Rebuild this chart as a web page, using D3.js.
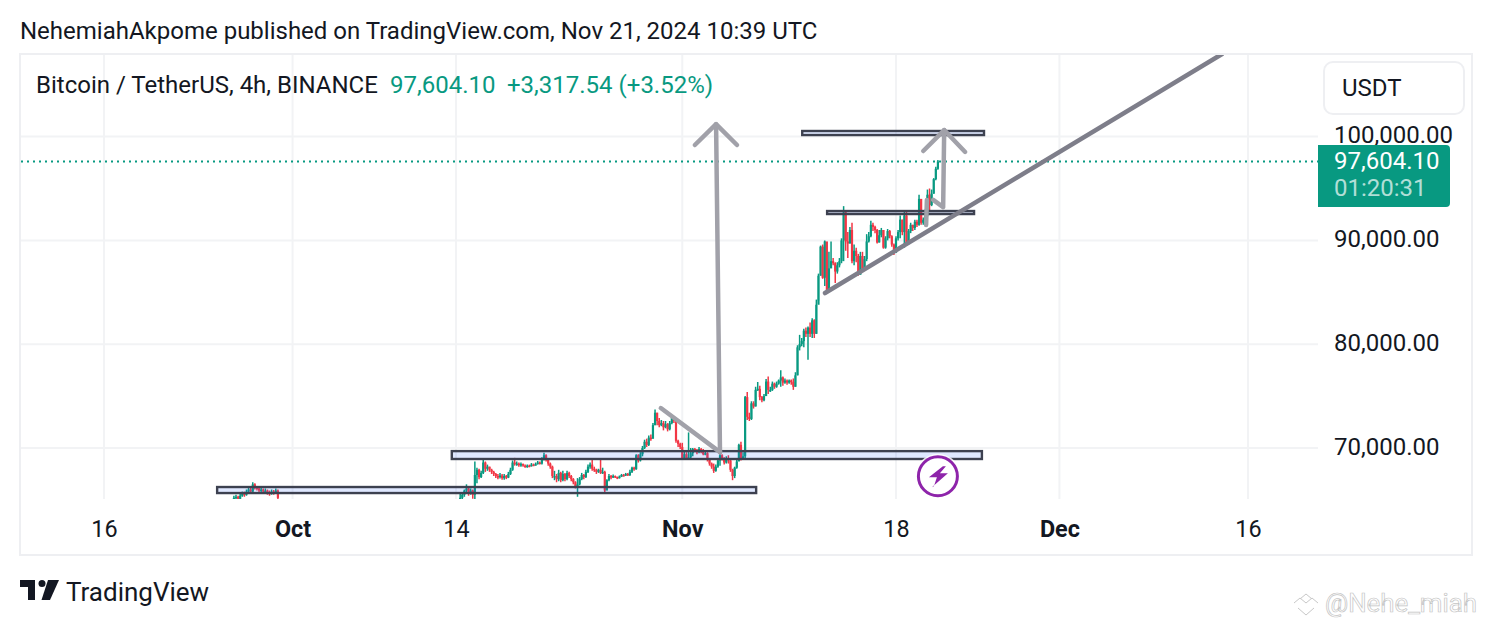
<!DOCTYPE html>
<html>
<head>
<meta charset="utf-8">
<script src="https://cdn.jsdelivr.net/npm/d3@7"></script>
<style>
  html, body { margin: 0; padding: 0; background: #fff; }
  svg { display: block; }
  text { font-family: Roboto, sans-serif; }
</style>
</head>
<body>
<div id="chart"></div>
<script>
// prices are in thousands of USDT, one value per 4h candle
const septStart = "2024-09-26T08:00:00Z";
const septCloses = [65.2,65.3,65.1,65.4,65.6,65.5,65.8,66.0,65.8,66.5,66.2,66.1,65.9,66.0,65.8,65.9,65.7,65.6,65.8,65.7,65.9,65.2];
const septHighs = [65.4,65.5,65.4,65.6,65.8,65.8,66.0,66.2,66.2,66.7,66.6,66.3,66.2,66.2,66.1,66.1,66.0,65.9,66.0,65.95,66.1,66.0];
const septLows = [64.8,65.0,64.9,65.0,65.3,65.3,65.4,65.7,65.6,65.7,66.0,65.9,65.7,65.7,65.6,65.7,65.5,65.4,65.5,65.5,65.6,65.0];

const mainStart = "2024-10-14T08:00:00Z";
const mainCloses = [
  65.2,65.5,65.9,66.1,65.6,65.9,65.5,67.4,67.9,67.2,
  67.6,68.6,68.0,68.2,67.9,67.7,67.5,67.3,67.2,67.35,
  67.1,67.3,67.15,67.5,67.9,68.6,68.5,68.5,68.35,68.45,
  68.3,68.2,68.3,68.25,68.4,68.35,68.45,68.6,68.5,68.9,
  69.3,68.9,68.5,68.2,67.3,67.3,67.0,67.6,66.9,67.5,
  67.0,67.6,67.3,67.0,66.7,66.3,66.5,67.0,67.4,67.2,
  67.7,68.2,68.4,68.0,67.9,67.7,67.9,67.6,67.7,65.9,
  66.9,67.3,67.15,67.3,67.2,67.1,67.25,67.4,67.35,67.5,
  67.4,67.7,68.1,67.95,69.3,68.8,69.4,70.0,70.6,70.3,
  71.0,70.9,72.2,73.4,72.6,72.2,72.4,72.0,72.3,71.8,
  72.4,72.9,72.6,70.7,70.4,70.1,69.0,69.4,69.0,69.1,
  69.5,69.9,69.8,69.6,69.9,69.8,69.4,69.5,68.9,68.5,
  68.2,67.8,68.2,68.8,69.3,69.0,68.6,69.0,68.8,67.9,
  67.3,68.1,68.7,70.3,69.0,69.2,74.9,73.0,72.8,74.3,
  74.0,75.6,75.7,74.9,74.6,75.0,76.4,75.6,75.6,76.2,
  75.9,76.2,76.5,76.8,76.3,76.5,76.3,76.5,76.35,75.9,
  77.0,79.7,80.0,80.3,81.3,81.0,81.6,81.0,82.3,81.0,
  83.8,86.6,89.4,86.4,89.9,85.2,87.3,88.0,87.8,87.0,
  87.6,88.0,90.0,92.7,89.9,89.7,91.0,88.0,89.0,88.5,
  86.7,88.5,87.3,88.2,89.9,90.4,91.5,91.3,91.0,89.8,
  90.5,91.0,89.3,90.2,90.9,90.4,89.6,88.8,90.2,90.8,
  92.0,90.8,92.4,89.7,90.9,91.5,91.2,91.8,91.5,94.0,
  91.7,92.0,92.4,94.4,93.4,94.5,95.9,96.9,97.6
];
const mainHighs = [
  65.6,65.7,66.0,66.5,66.3,66.1,66.0,68.7,68.1,68.0,
  67.8,68.9,68.7,68.4,68.2,68.0,67.8,67.6,67.5,67.6,
  67.5,67.5,67.4,67.7,68.1,68.8,69.05,68.7,68.6,68.6,
  68.5,68.4,68.4,68.4,68.55,68.5,68.6,68.75,68.7,69.1,
  69.55,69.4,69.0,68.6,68.3,67.8,67.5,67.9,67.7,67.8,
  67.6,67.8,67.7,67.4,67.1,66.8,67.1,67.2,67.6,67.5,
  67.9,68.4,68.6,68.85,68.2,68.0,68.0,68.85,68.1,67.8,
  67.0,67.5,67.4,67.45,67.35,67.25,67.35,67.5,67.5,67.6,
  67.6,67.9,68.2,68.2,69.4,69.4,69.6,70.2,70.8,70.9,
  71.2,71.3,72.4,73.7,73.4,72.9,72.7,72.6,72.6,72.4,
  72.6,73.0,73.0,72.5,70.8,70.5,70.5,69.7,69.6,71.5,
  70.0,70.0,70.0,69.9,70.1,70.0,69.9,69.7,69.6,69.0,
  68.6,68.5,68.4,69.0,69.6,69.4,69.1,69.2,69.3,68.9,
  68.0,68.2,69.0,70.4,70.6,69.6,75.0,75.4,73.4,74.5,
  74.5,75.9,76.36,76.0,75.0,75.2,76.65,76.9,75.9,76.4,
  76.3,76.4,76.6,77.5,76.9,76.7,76.6,76.6,76.6,76.7,
  77.3,79.9,80.9,80.6,81.5,81.6,81.7,82.1,82.5,82.4,
  84.3,86.8,89.5,89.6,90.0,88.1,88.9,89.9,88.3,87.9,
  87.9,88.3,90.2,93.3,92.9,90.8,91.3,91.7,89.6,89.3,
  88.7,88.9,88.9,88.5,90.6,90.8,91.9,91.7,91.4,91.1,
  91.0,91.2,91.0,90.4,91.1,91.0,90.5,89.7,90.4,91.0,
  92.4,92.0,92.8,92.9,91.1,91.7,91.5,92.0,92.0,94.4,
  93.7,92.2,93.0,94.9,95.0,94.9,96.0,97.1,97.75
];
const mainLows = [
  64.8,65.0,65.3,65.7,65.4,65.5,65.1,65.0,66.6,67.0,
  67.1,67.5,67.7,67.8,67.7,67.5,67.3,67.1,67.0,67.05,
  66.95,66.95,67.0,67.1,67.4,67.8,68.3,68.3,68.2,68.2,
  68.2,68.1,68.1,68.15,68.2,68.25,68.3,68.4,68.4,68.4,
  68.8,68.7,68.3,68.0,67.1,66.9,66.7,66.8,66.7,66.8,
  66.8,66.9,67.1,66.8,66.5,66.1,65.3,66.4,66.9,67.0,
  67.1,67.6,68.0,67.8,67.7,67.5,67.6,67.5,67.5,65.7,
  66.2,66.8,67.0,67.1,67.1,67.0,67.05,67.2,67.25,67.3,
  67.3,67.3,67.6,67.8,67.9,68.6,68.7,69.2,69.9,70.1,
  70.2,70.7,70.9,72.2,72.2,72.0,72.1,71.7,71.9,71.6,
  71.7,72.3,72.4,70.5,70.1,69.9,68.9,68.9,68.9,68.9,
  69.0,69.2,69.6,69.4,69.5,69.5,69.3,69.3,68.7,68.3,
  68.0,67.6,67.7,68.1,68.3,68.8,68.4,68.5,68.5,67.7,
  66.9,67.1,68.0,68.9,68.8,68.9,69.0,72.7,72.6,72.7,
  73.8,74.0,75.5,74.6,74.4,74.5,75.0,75.2,75.4,75.5,
  75.7,75.8,76.1,75.9,76.0,76.2,76.1,76.2,76.1,75.6,
  75.9,77.0,79.4,79.8,79.7,80.7,78.5,80.7,80.6,80.6,
  81.0,84.2,86.6,86.3,85.6,85.0,85.2,87.5,87.6,85.9,
  86.8,87.4,87.8,88.0,89.0,88.3,89.7,87.8,87.6,87.9,
  86.6,86.7,87.1,87.2,88.0,89.8,90.3,90.9,90.7,89.7,
  89.8,90.3,89.2,89.2,90.0,90.2,89.4,88.6,88.8,90.0,
  90.2,90.5,89.3,89.5,89.6,90.7,90.9,91.0,91.3,91.4,
  91.5,91.5,91.6,92.3,92.9,93.3,94.5,95.8,96.8
];

// axis ticks
const priceTicks = [70, 80, 90, 100];
const timeTicks = ["2024-09-16", "2024-10-01", "2024-10-14", "2024-11-01", "2024-11-18", "2024-12-01", "2024-12-16"];
const timeLabels = ["16", "Oct", "14", "Nov", "18", "Dec", "16"];

// drawn zones: start, end, top price, bottom price
const zoneStarts = ["2024-09-25T00:00Z", "2024-10-13T16:00Z", "2024-11-10T13:00Z", "2024-11-12T12:30Z"];
const zoneEnds = ["2024-11-06T21:00Z", "2024-11-24T20:00Z", "2024-11-25T00:00Z", "2024-11-24T05:00Z"];
const zoneTops = [66.24, 69.7, 100.54, 92.83];
const zoneBottoms = [65.66, 68.94, 100.15, 92.54];

// drawn lines, [time, price]
const wedgeLine = [["2024-10-30T07:00Z", 73.85], ["2024-11-04T00:00Z", 69.6]];
const bigArrow = [["2024-11-04T00:00Z", 69.6], ["2024-11-03T16:30Z", 101.2]];
const bigHead = [["2024-11-02T00:00Z", 99.19], ["2024-11-03T16:30Z", 101.2], ["2024-11-05T08:30Z", 99.19]];
const smallArrow = [["2024-11-20T23:00Z", 93.9], ["2024-11-21T18:00Z", 93.2], ["2024-11-21T20:00Z", 100.63]];
const smallHead = [["2024-11-20T04:00Z", 98.61], ["2024-11-21T20:00Z", 100.63], ["2024-11-23T12:00Z", 98.52]];
const smallStub = [["2024-11-20T09:30Z", 91.48], ["2024-11-20T11:00Z", 93.9]];
const trendLine = [["2024-11-12T08:30Z", 84.93], ["2024-12-13T22:30Z", 107.96]];

const lastPrice = 97.6041;

const upColor = "#089981", downColor = "#f23645", textColor = "#131722";

function makeCandles(start, closes, highs, lows) {
    const t0 = new Date(start).getTime();
    return closes.map((c, i) => ({
        date: new Date(t0 + i * 4 * 3600 * 1000),
        open: i === 0 ? c - 0.1 : closes[i - 1],
        close: c,
        high: highs[i],
        low: lows[i]
    }));
}
const candles = makeCandles(septStart, septCloses, septHighs, septLows)
    .concat(makeCandles(mainStart, mainCloses, mainHighs, mainLows));

const svg = d3.select("#chart").append("svg").attr("width", 1492).attr("height", 626);

const x = d3.scaleUtc()
    .domain([new Date(timeTicks[0]), new Date(timeTicks[6])])
    .range([104, 1248]);
const y = d3.scaleLinear().domain([70, 100]).range([448, 136.6]);

// titulo
svg.append("text").attr("x", 20).attr("y", 39).attr("font-size", 24).attr("fill", textColor)
    .text("NehemiahAkpome published on TradingView.com, Nov 21, 2024 10:39 UTC");

// marco
svg.append("rect").attr("x", 20).attr("y", 54).attr("width", 1452).attr("height", 501)
    .attr("fill", "#fff").attr("stroke", "#eeeff2").attr("stroke-width", 2);

svg.append("defs").append("clipPath").attr("id", "plot")
    .append("rect").attr("x", 21).attr("y", 55).attr("width", 1297).attr("height", 444);

const plot = svg.append("g").attr("clip-path", "url(#plot)");

// grid
plot.selectAll(".vgrid").data(timeTicks).enter().append("line")
    .attr("x1", d => x(new Date(d))).attr("x2", d => x(new Date(d)))
    .attr("y1", 55).attr("y2", 499)
    .attr("stroke", "#f2f3f5").attr("stroke-width", 2);
plot.selectAll(".hgrid").data(priceTicks).enter().append("line")
    .attr("x1", 21).attr("x2", 1318)
    .attr("y1", d => y(d)).attr("y2", d => y(d))
    .attr("stroke", "#f2f3f5").attr("stroke-width", 2);

// velas
plot.selectAll(".wick").data(candles).enter().append("line")
    .attr("x1", d => x(d.date)).attr("x2", d => x(d.date))
    .attr("y1", d => y(d.high)).attr("y2", d => y(d.low))
    .attr("stroke", d => d.close >= d.open ? upColor : downColor)
    .attr("stroke-width", 1.5);
plot.selectAll(".body").data(candles).enter().append("rect")
    .attr("x", d => x(d.date) - 1.1)
    .attr("width", 2.2)
    .attr("y", d => y(Math.max(d.open, d.close)))
    .attr("height", d => Math.max(1.5, Math.abs(y(d.open) - y(d.close))))
    .attr("fill", d => d.close >= d.open ? upColor : downColor);

// ultimo precio
plot.append("line")
    .attr("x1", 21).attr("x2", 1318).attr("y1", y(lastPrice)).attr("y2", y(lastPrice))
    .attr("stroke", upColor).attr("stroke-width", 2).attr("stroke-dasharray", "2 4");

// zonas
plot.selectAll(".zone").data(zoneStarts).enter().append("rect")
    .attr("x", d => x(new Date(d)))
    .attr("width", (d, i) => x(new Date(zoneEnds[i])) - x(new Date(d)))
    .attr("y", (d, i) => y(zoneTops[i]))
    .attr("height", (d, i) => y(zoneBottoms[i]) - y(zoneTops[i]))
    .attr("fill", "#2962ff").attr("fill-opacity", 0.15)
    .attr("stroke", "#3d4150").attr("stroke-width", 2.4);

// lineas dibujadas
const lineGen = d3.line().x(d => x(new Date(d[0]))).y(d => y(d[1]));
function drawn(points, color, w) {
    plot.append("path").attr("d", lineGen(points)).attr("fill", "none")
        .attr("stroke", color).attr("stroke-width", w)
        .attr("stroke-linecap", "round").attr("stroke-linejoin", "round");
}
drawn(trendLine, "#7e7e8a", 4.5);
drawn(wedgeLine, "#a1a1a9", 4.5);
drawn(bigArrow, "#a1a1a9", 4.5);
drawn(bigHead, "#a1a1a9", 4.5);
drawn(smallStub, "#a1a1a9", 4.5);
drawn(smallArrow, "#a1a1a9", 4.5);
drawn(smallHead, "#a1a1a9", 4.5);

// marcador de la idea
const bolt = svg.append("g")
    .attr("transform", `translate(${x(candles[candles.length - 1].date)},${y(67.28)})`);
bolt.append("circle").attr("r", 22.5).attr("fill", "#fff").attr("fill-opacity", 0.85);
bolt.append("circle").attr("r", 19.5).attr("fill", "#fff").attr("stroke", "#8e24aa").attr("stroke-width", 3);
bolt.append("path").attr("d", "M-9 1 L5 -10 L8 -10 L2 -3 L10 -3 L-6 11 L-4 10 L-1 1 Z").attr("fill", "#8e24aa");

// ejes
const xAxis = svg.append("g").attr("transform", "translate(0,529)")
    .call(d3.axisBottom(x)
        .tickValues(timeTicks.map(d => new Date(d)))
        .tickSize(0).tickPadding(0)
        .tickFormat((d, i) => timeLabels[i]));
xAxis.select(".domain").remove();
xAxis.selectAll("text")
    .attr("y", 0).attr("dy", "0.36em")
    .attr("font-size", 23.4).attr("fill", textColor)
    .attr("font-weight", (d, i) => /[A-Za-z]/.test(timeLabels[i]) ? 700 : 400)
    .style("font-family", "Roboto, sans-serif");

const yAxis = svg.append("g").attr("transform", "translate(1334,0)")
    .call(d3.axisRight(y)
        .tickValues(priceTicks)
        .tickSize(0).tickPadding(0)
        .tickFormat(d => d3.format(",.2f")(d * 1000)));
yAxis.select(".domain").remove();
yAxis.selectAll("text")
    .attr("dy", "0.26em")
    .attr("font-size", 24).attr("fill", textColor)
    .style("font-family", "Roboto, sans-serif");

// leyenda
svg.append("text").attr("x", 36).attr("y", 93).attr("font-size", 24).attr("fill", textColor)
    .text("Bitcoin / TetherUS, 4h, BINANCE");
svg.append("text").attr("x", 390).attr("y", 93).attr("font-size", 24).attr("fill", upColor)
    .text(d3.format(",.2f")(lastPrice * 1000));
svg.append("text").attr("x", 507).attr("y", 93).attr("font-size", 24).attr("fill", upColor)
    .text("+3,317.54 (+3.52%)");

// caja USDT
svg.append("rect").attr("x", 1324).attr("y", 62).attr("width", 140).attr("height", 52).attr("rx", 9)
    .attr("fill", "#fff").attr("stroke", "#eeeff2").attr("stroke-width", 2);
svg.append("text").attr("x", 1342).attr("y", 96).attr("font-size", 24).attr("fill", textColor).text("USDT");

// etiqueta de precio
svg.append("path").attr("d", "M1318 145 H1446 a4 4 0 0 1 4 4 V203 a4 4 0 0 1 -4 4 H1318 Z").attr("fill", upColor);
svg.append("text").attr("x", 1334).attr("y", 169).attr("font-size", 24).attr("fill", "#fff")
    .text(d3.format(",.2f")(lastPrice * 1000));
svg.append("text").attr("x", 1334).attr("y", 196).attr("font-size", 24).attr("fill", "#fff").attr("fill-opacity", 0.7)
    .text("01:20:31");

// logo
const logo = svg.append("g").attr("fill", textColor);
logo.append("path").attr("d", "M20 580 H35 V600 H28 V587 H20 Z");
logo.append("circle").attr("cx", 42).attr("cy", 583.5).attr("r", 3.5);
logo.append("path").attr("d", "M48 580 H59 L50 600 H41.5 Z");
svg.append("text").attr("x", 66).attr("y", 601).attr("font-size", 26).attr("fill", textColor).text("TradingView");

// marca de agua
const mark = svg.append("g").attr("fill", "none").attr("stroke", "#c8c8c8").attr("stroke-width", 1);
mark.append("path").attr("d", "M1294 603 L1300 598 L1306 603 M1306 603 L1312 598 L1318 603 M1300 599 L1306 594 L1312 599 M1298 608 L1306 615 L1314 608");
svg.append("text").attr("x", 1325).attr("y", 612).attr("font-size", 25.8).attr("fill", "#fff")
    .attr("stroke", "#c4c4c4").attr("stroke-width", 0.7).text("@Nehe_miah");
</script>
</body>
</html>
